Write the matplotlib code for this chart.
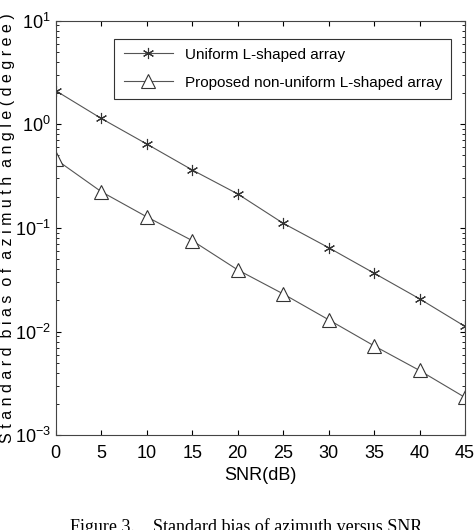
import matplotlib
matplotlib.use("Agg")
import matplotlib.pyplot as plt

snr = [0, 5, 10, 15, 20, 25, 30, 35, 40, 45]
uniform = [2.11, 1.14, 0.646, 0.363, 0.213, 0.111, 0.0645, 0.0366, 0.0207, 0.0112]
proposed = [0.459, 0.224, 0.128, 0.0755, 0.0394, 0.0231, 0.0130, 0.00728, 0.00421, 0.00231]
labels = ["Uniform L-shaped array", "Proposed non-uniform L-shaped array"]

plt.rcParams['font.family'] = ['Liberation Sans', 'DejaVu Sans']
fig = plt.figure(figsize=(4.74, 5.30), dpi=100)
ax = fig.add_axes([0.1175, 0.179, 0.8635, 0.782])
c = '#555555'
ax.semilogy(snr, uniform, '-', color=c, lw=0.8, marker=(6, 2, 0), ms=8, mew=0.8, mec='#333333', label=labels[0])
ax.semilogy(snr, proposed, '-', color=c, lw=0.8, marker='^', ms=10, mfc='white', mec='#333333', mew=0.8, label=labels[1])
ax.set_xlim(0, 45)
ax.set_ylim(1e-3, 1e1)
ax.set_xticks(snr)
ax.tick_params(which='both', direction='in', top=True, right=True, labelsize=13)
ax.tick_params(axis='x', pad=7)
for s in ax.spines.values():
    s.set_color('#444444')
ax.set_xlabel("SNR(dB)", fontsize=13)
ax.set_ylabel("S t a n d a r d  b i a s  o f  a z i m u t h  a n g l e ( d e g r e e )", fontsize=11.5, labelpad=0)
leg = ax.legend(loc='upper left', bbox_to_anchor=(0.125, 0.975), fontsize=11, fancybox=False,
                edgecolor='#333333', framealpha=1, handlelength=3.2, borderpad=0.6, labelspacing=0.9)
leg.get_frame().set_linewidth(0.8)
fig.text(0.52, -0.012, "Figure 3.    Standard bias of azimuth versus SNR", ha='center', va='bottom',
         fontsize=13, family=['Liberation Serif', 'DejaVu Serif'])
fig.savefig("out.png", dpi=100)
